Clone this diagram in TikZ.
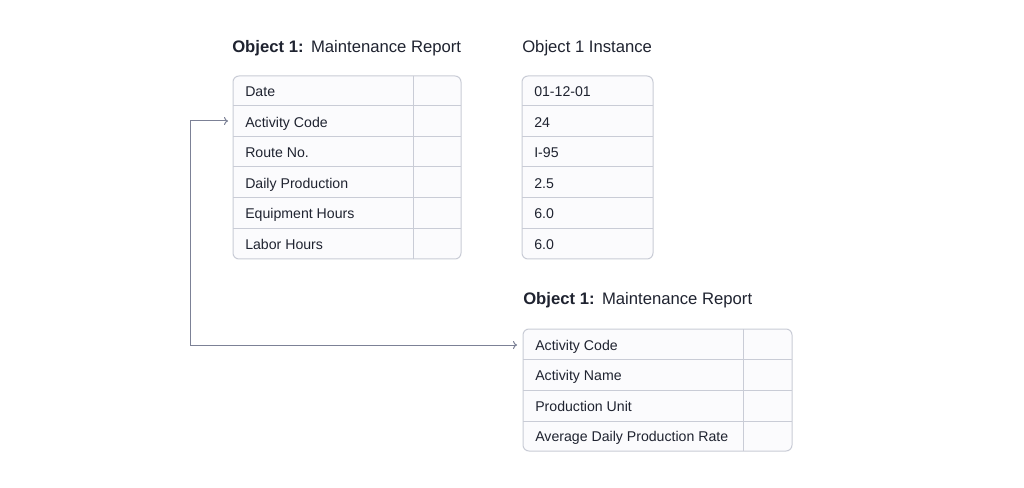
\documentclass[tikz,border=0pt]{standalone}
\usepackage{fontspec}
\setmainfont{Liberation Sans}
\usetikzlibrary{calc,arrows.meta}
\definecolor{ink}{HTML}{1F2330}
\definecolor{rulegray}{HTML}{C9CCD6}
\definecolor{cellbg}{HTML}{FBFBFD}
\definecolor{linkgray}{HTML}{7C8196}
\tikzset{
  cell/.style={anchor=base west,font=\fontsize{10.6}{12}\selectfont,text=ink,inner sep=0pt},
  heading/.style={anchor=base west,font=\fontsize{12.5}{14}\selectfont,text=ink,inner sep=0pt},
  frame/.style={draw=rulegray,line width=0.75pt,fill=cellbg,rounded corners=4.5pt},
  gridline/.style={draw=rulegray,line width=0.75pt},
  link/.style={draw=linkgray,line width=0.75pt,{To[length=3pt,width=6pt]}-{To[length=3pt,width=6pt]},shorten <=3.75pt,shorten >=4.5pt}
}
\begin{document}
\begin{tikzpicture}[x=0.75pt,y=-0.75pt]
\useasboundingbox[fill=white] (0,0) rectangle (1024,488);
% headings
\node[heading] (rpt-title) at (232,53) {\textbf{Object 1:}\hspace{0.45em}Maintenance Report};
\node[heading] (inst-title) at (522,53) {Object 1 Instance};
\node[heading] (ref-title) at (523,305) {\textbf{Object 1:}\hspace{0.45em}Maintenance Report};
% report table
\draw[frame] (233,76) rectangle (461,259);
\foreach \y in {106,136.5,167,198,228.5} \draw[gridline] (233,\y) -- (461,\y);
\draw[gridline] (413,76) -- (413,259);
\foreach \t/\n [count=\i] in {Date/date,Activity Code/act,Route No./route,Daily Production/prod,Equipment Hours/equip,Labor Hours/labor}
  \node[cell] (rpt-\n) at (245,{76+30.5*\i-9.5}) {\t};
% instance table
\draw[frame] (522,76) rectangle (653,259);
\foreach \y in {106,136.5,167,198,228.5} \draw[gridline] (522,\y) -- (653,\y);
\foreach \t/\n [count=\i] in {01-12-01/date,24/act,I-95/route,2.5/prod,6.0/equip,6.0/labor}
  \node[cell] (inst-\n) at (534,{76+30.5*\i-9.5}) {\t};
% referenced table
\draw[frame] (523,329) rectangle (792,451);
\foreach \y in {359,390,421} \draw[gridline] (523,\y) -- (792,\y);
\draw[gridline] (743,329) -- (743,451);
\foreach \t/\n [count=\i] in {Activity Code/act,Activity Name/name,Production Unit/unit,Average Daily Production Rate/rate}
  \node[cell] (ref-\n) at (535,{329+30.5*\i-9.5}) {\t};
% link
\coordinate (rpt-in) at (233,121);
\coordinate (ref-in) at (523,345);
\draw[link] (rpt-in) -- ++(-43,0) |- (ref-in);
\end{tikzpicture}
\end{document}
